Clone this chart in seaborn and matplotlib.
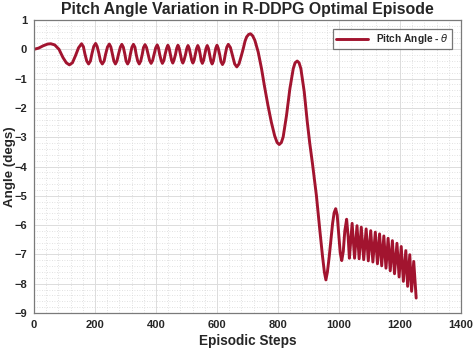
import matplotlib
matplotlib.use("Agg")
import matplotlib.pyplot as plt
from matplotlib.ticker import MultipleLocator
import seaborn as sns
import pandas as pd

# ---- data ----
early_steps = [0, 15, 30, 45, 55, 68, 82, 95, 106, 116, 126, 136, 146,
               156, 162, 167, 173, 179, 185, 190, 196, 202, 207, 213, 218, 224, 230, 235, 241,
               247, 252, 257, 262, 267, 272, 277, 283, 288, 293, 298, 302, 307, 312, 316, 321,
               326, 331, 335, 340, 345, 350, 355, 359, 364, 369, 374, 379, 384, 389, 394, 399,
               404, 408, 412, 417, 421, 426, 430, 435, 439, 443, 447, 451, 455, 459, 464, 468,
               472, 476, 480, 484, 488, 492, 497, 501, 505, 509, 513, 517, 521, 525, 529, 533,
               537, 541, 545, 548, 552, 556, 560, 564, 568, 572, 576, 580, 584, 588, 592, 596,
               600, 604, 609, 613, 618, 623, 627, 632, 637, 644, 651, 658, 665]
early_angle = [0.0, 0.04, 0.12, 0.18, 0.19, 0.15, 0.0, -0.28, -0.46, -0.53, -0.46, -0.22, 0.05,
               0.19, 0.09, -0.16, -0.40, -0.50, -0.40, -0.15, 0.10, 0.20, 0.10, -0.15, -0.40,
               -0.50, -0.40, -0.16, 0.08, 0.18, 0.08, -0.16, -0.40, -0.50, -0.40, -0.17, 0.07,
               0.17, 0.07, -0.17, -0.40, -0.50, -0.40, -0.17, 0.07, 0.17, 0.07, -0.17, -0.40,
               -0.50, -0.40, -0.17, 0.06, 0.16, 0.06, -0.16, -0.38, -0.48, -0.38, -0.17, 0.05,
               0.15, 0.05, -0.17, -0.38, -0.48, -0.38, -0.17, 0.04, 0.14, 0.04, -0.17, -0.37,
               -0.47, -0.37, -0.17, 0.04, 0.14, 0.04, -0.17, -0.37, -0.47, -0.37, -0.17, 0.03,
               0.13, 0.03, -0.17, -0.37, -0.47, -0.37, -0.17, 0.03, 0.13, 0.03, -0.18, -0.38,
               -0.48, -0.38, -0.18, 0.03, 0.13, 0.03, -0.19, -0.40, -0.50, -0.40, -0.18, 0.04,
               0.14, 0.04, -0.19, -0.42, -0.52, -0.42, -0.18, 0.07, 0.17, 0.06, -0.22, -0.50,
               -0.60]

mid_steps = [672, 679, 686, 692, 697, 704, 710, 717, 724, 735, 746, 756, 767, 778, 789, 797,
             804, 811, 817, 828, 839, 850, 856, 863, 869, 875, 886, 896, 904, 913, 926, 937,
             946, 952, 957, 962, 968, 979, 984, 989, 994, 999, 1004]
mid_angle = [-0.50, -0.25, 0.02, 0.28, 0.42, 0.51, 0.53, 0.46, 0.31, -0.09, -0.66, -1.28,
             -1.91, -2.48, -2.95, -3.18, -3.25, -3.18, -2.99, -2.25, -1.34, -0.66, -0.46,
             -0.40, -0.46, -0.66, -1.45, -2.48, -3.20, -3.90, -5.00, -6.16, -7.07, -7.60,
             -7.87, -7.60, -7.07, -5.94, -5.58, -5.44, -5.65, -6.30, -6.95]

tail_steps = [1009, 1014, 1019, 1025, 1030, 1034, 1043, 1051, 1059, 1066, 1073, 1081, 1089,
              1096, 1104, 1111, 1119, 1126, 1133, 1140, 1147, 1154, 1161, 1168, 1175, 1182,
              1190, 1197, 1204, 1211, 1219, 1225, 1232, 1238, 1245, 1253]
tail_angle = [-7.21, -6.90, -6.20, -5.80, -6.40, -7.13, -5.94, -7.13, -6.02, -7.15, -6.07,
              -7.18, -6.13, -7.22, -6.19, -7.26, -6.24, -7.32, -6.30, -7.39, -6.37, -7.47,
              -6.45, -7.56, -6.53, -7.66, -6.62, -7.77, -6.73, -7.92, -6.87, -8.09, -7.01,
              -8.26, -7.24, -8.49]

steps = early_steps + mid_steps + tail_steps
angle = early_angle + mid_angle + tail_angle
df = pd.DataFrame({"Episodic Steps": steps, "Angle": angle})

x_ticks = [0, 200, 400, 600, 800, 1000, 1200, 1400]
y_ticks = [1, 0, -1, -2, -3, -4, -5, -6, -7, -8, -9]

sns.set_style("white")
plt.rcParams["font.family"] = ["Liberation Sans", "DejaVu Sans"]

fig = plt.figure(figsize=(4.74, 3.53), dpi=100)
ax = fig.add_axes([0.0717, 0.1133, 0.9009, 0.8300])

sns.lineplot(data=df, x="Episodic Steps", y="Angle", ax=ax, color="#A2142F",
             linewidth=2.1, estimator=None, sort=False,
             label=r"Pitch Angle - $\theta$")
ax.lines[0].set_solid_joinstyle("round")

ax.set_xlim(0, 1400)
ax.set_ylim(-9, 1)
ax.set_xticks(x_ticks)
ax.set_yticks(y_ticks)
ax.xaxis.set_minor_locator(MultipleLocator(40))
ax.yaxis.set_minor_locator(MultipleLocator(0.2))
ax.grid(which="major", color="#dcdcdc", linewidth=0.7, linestyle="-")
ax.grid(which="minor", color="#d8d8d8", linewidth=0.6, linestyle=(0, (1, 2)))
ax.set_axisbelow(True)

for s in ax.spines.values():
    s.set_color("#7a7a7a")
    s.set_linewidth(0.9)
ax.tick_params(which="major", direction="in", length=3, width=0.8, color="#7a7a7a",
               labelsize=8, pad=5)
ax.tick_params(which="minor", length=0)
for lab in ax.get_xticklabels() + ax.get_yticklabels():
    lab.set_fontweight("bold")

ax.set_title("Pitch Angle Variation in R-DDPG Optimal Episode", fontsize=11.4,
             fontweight="bold", pad=4)
ax.set_xlabel("Episodic Steps", fontsize=9.8, fontweight="bold", labelpad=3)
ax.set_ylabel("Angle (degs)", fontsize=9.6, fontweight="bold")
ax.yaxis.set_label_coords(-0.043, 0.5)

leg = ax.legend(loc="upper right", prop={"weight": "bold", "size": 7.3},
                frameon=True, fancybox=False, handlelength=3.2, borderpad=0.3,
                borderaxespad=0.9)
leg.get_frame().set_edgecolor("#555555")
leg.get_frame().set_linewidth(0.9)

fig.savefig("out.png", dpi=100)
